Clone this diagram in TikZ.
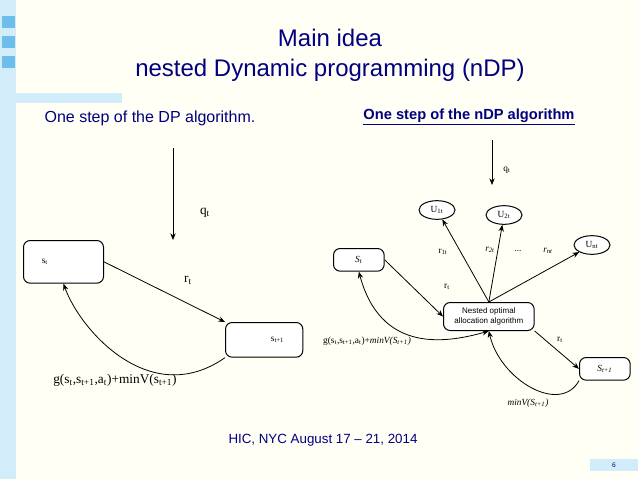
\documentclass[tikz,border=0pt]{standalone}
\usepackage{fontspec}
\setmainfont{Liberation Sans}
\newfontfamily\tms{Liberation Serif}
\usetikzlibrary{arrows.meta,shapes.geometric}
\definecolor{slidebg}{RGB}{255,255,245}
\definecolor{stripe}{RGB}{210,236,250}
\definecolor{sq}{RGB}{110,190,235}
\definecolor{navy}{RGB}{0,0,128}
\tikzset{every picture/.style={line width=0.75pt}}
\tikzset{
  statebox/.style={draw, rounded corners=5pt, fill=white, font=\tms\small},
  utilbox/.style={draw, ellipse, fill=white, inner sep=1pt, minimum width=27pt, minimum height=14pt, font=\tms\scriptsize},
  lbl/.style={font=\tms\scriptsize},
  flow/.style={-{Stealth[length=5pt,width=4pt]}, line width=0.6pt}
}
\begin{document}
\begin{tikzpicture}[x=0.75pt,y=0.75pt,yscale=-1,xscale=1]
%Background
\fill [slidebg] (0,0) rectangle (638,479);
\useasboundingbox (0,0) rectangle (638,479);
\fill [stripe] (0,0) rectangle (16,479);
\fill [stripe] (16,93) rectangle (122,103);
\foreach \y in {16,36,56}
  \fill [sq] (2,\y) rectangle (15,\y+12);
\fill [stripe] (590,459) rectangle (638,471);

% Title
\node (title1) at (330,38) [font=\fontsize{18}{20}\selectfont, text=navy] {Main idea};
\node (title2) at (330,70) [font=\fontsize{18}{20}\selectfont, text=navy] {nested Dynamic programming (nDP)};
\node (sub1) at (150,118) [font=\fontsize{12}{14}\selectfont, text=navy] {One step of the DP algorithm.};
\node (sub2) at (469,117) [font=\bfseries\fontsize{11}{13}\selectfont, text=navy] {\underline{One step of the nDP algorithm}};

%Left: DP step
\node (st) [statebox, minimum width=60pt, minimum height=32pt, anchor=north west] at (23,240) {};
\node at (st.center) [lbl, xshift=-14pt] {s\textsubscript{t}};
\node (stn) [statebox, minimum width=58pt, minimum height=26pt, anchor=north west] at (225,322) {};
\node at (stn.center) [lbl, xshift=10pt] {s\textsubscript{t+1}};
\coordinate (qtop) at (173,148);
\coordinate (qbot) at (173,240);
\draw [flow] (qtop) -- (qbot);
% Text Node
\node (q1) at (205,213) [font=\tms\normalsize] {q\textsubscript{t}};
\draw [flow] (st.east) -- (stn.north west);
% Text Node
\node (r1) at (188,280) [font=\tms\normalsize] {r\textsubscript{t}};
\draw [flow] (stn.south west) .. controls (150,410) and (80,330) .. (st.south);
% Text Node
\node (g1) at (115,380) [font=\tms\normalsize] {g(s\textsubscript{t},s\textsubscript{t+1},a\textsubscript{t})+minV(s\textsubscript{t+1})};

%Right: nDP step
\node (St) [statebox, minimum width=38pt, minimum height=17pt, anchor=north west] at (333,248) {\scriptsize\itshape S\textsubscript{t}};
\node (nest) [statebox, minimum width=68pt, minimum height=21pt, align=center, anchor=north west, font=\fontsize{6}{7.5}\selectfont] at (443,302) {Nested optimal\\allocation algorithm};
\node (Stn) [statebox, minimum width=38pt, minimum height=17pt, anchor=north west] at (579,357) {\scriptsize\itshape S\textsubscript{t+1}};
\node (U1) [utilbox] at (437,210) {U\textsubscript{1t}};
\node (U2) [utilbox] at (504,215) {U\textsubscript{2t}};
\node (Un) [utilbox] at (592,245) {U\textsubscript{nt}};
\coordinate (q2top) at (492,140);
\coordinate (q2bot) at (492,185);
\draw [flow] (q2top) -- (q2bot);
% Text Node
\node (q2) at (507,170) [lbl] {q\textsubscript{t}};
\draw [flow] (nest.north) -- (U1);
\draw [flow] (nest.north) -- (U2);
\draw [flow] (nest.north) -- (Un);
% Text Node
\node (r1t) at (443,252) [lbl] {r\textsubscript{1t}};
\node (r2t) at (490,250) [lbl] {\itshape r\textsubscript{2t}};
\node (dots) at (518,251) [lbl] {...};
\node (rnt) at (548,251) [lbl] {\itshape r\textsubscript{nt}};
\draw [flow] (St.east) -- (nest.west);
\node (r2) at (447,287) [lbl] {r\textsubscript{t}};
\draw [flow] (nest.south east) -- (Stn.west);
\node (r3) at (560,340) [lbl] {r\textsubscript{t}};
\draw [{Stealth[length=5pt,width=4pt]}-{Stealth[length=5pt,width=4pt]}, line width=0.6pt] (St.south) .. controls (380,350) and (440,345) .. (nest.south);
% Text Node
\node (g2) at (367,341) [lbl] {g(s\textsubscript{t},s\textsubscript{t+1},a\textsubscript{t})+\itshape minV(S\textsubscript{t+1})};
\draw [flow] (Stn.south west) .. controls (560,415) and (500,380) .. (nest.south);
% Text Node
\node (m2) at (528,403) [lbl] {\itshape minV(S\textsubscript{t+1})};

% Footer
\node (foot) at (323,440) [font=\fontsize{10}{12}\selectfont, text=navy] {HIC, NYC August 17 – 21, 2014};
\node (page) at (614,465) [font=\tiny, text=navy] {6};
\end{tikzpicture}
\end{document}
